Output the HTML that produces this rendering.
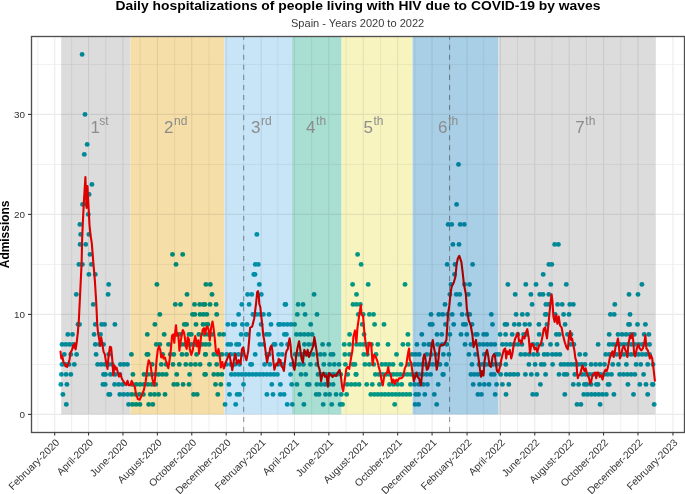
<!DOCTYPE html>
<html><head><meta charset="utf-8"><style>
html,body{margin:0;padding:0;background:#fff;width:685px;height:494px;overflow:hidden}
svg{display:block;position:absolute;left:0;top:0}
text{font-family:"Liberation Sans",sans-serif}
</style></head><body>
<svg width="685" height="494" viewBox="0 0 685 494">
<rect width="685" height="494" fill="#fff"/>
<g><line x1="37.78" y1="36.5" x2="37.78" y2="432.5" stroke="#ebebeb" stroke-width="0.75"/><line x1="71.62" y1="36.5" x2="71.62" y2="432.5" stroke="#ebebeb" stroke-width="0.75"/><line x1="105.75" y1="36.5" x2="105.75" y2="432.5" stroke="#ebebeb" stroke-width="0.75"/><line x1="140.16" y1="36.5" x2="140.16" y2="432.5" stroke="#ebebeb" stroke-width="0.75"/><line x1="174.57" y1="36.5" x2="174.57" y2="432.5" stroke="#ebebeb" stroke-width="0.75"/><line x1="208.98" y1="36.5" x2="208.98" y2="432.5" stroke="#ebebeb" stroke-width="0.75"/><line x1="243.67" y1="36.5" x2="243.67" y2="432.5" stroke="#ebebeb" stroke-width="0.75"/><line x1="277.80" y1="36.5" x2="277.80" y2="432.5" stroke="#ebebeb" stroke-width="0.75"/><line x1="311.65" y1="36.5" x2="311.65" y2="432.5" stroke="#ebebeb" stroke-width="0.75"/><line x1="346.06" y1="36.5" x2="346.06" y2="432.5" stroke="#ebebeb" stroke-width="0.75"/><line x1="380.47" y1="36.5" x2="380.47" y2="432.5" stroke="#ebebeb" stroke-width="0.75"/><line x1="414.88" y1="36.5" x2="414.88" y2="432.5" stroke="#ebebeb" stroke-width="0.75"/><line x1="449.57" y1="36.5" x2="449.57" y2="432.5" stroke="#ebebeb" stroke-width="0.75"/><line x1="483.70" y1="36.5" x2="483.70" y2="432.5" stroke="#ebebeb" stroke-width="0.75"/><line x1="517.54" y1="36.5" x2="517.54" y2="432.5" stroke="#ebebeb" stroke-width="0.75"/><line x1="551.95" y1="36.5" x2="551.95" y2="432.5" stroke="#ebebeb" stroke-width="0.75"/><line x1="586.36" y1="36.5" x2="586.36" y2="432.5" stroke="#ebebeb" stroke-width="0.75"/><line x1="620.77" y1="36.5" x2="620.77" y2="432.5" stroke="#ebebeb" stroke-width="0.75"/><line x1="655.47" y1="36.5" x2="655.47" y2="432.5" stroke="#ebebeb" stroke-width="0.75"/><line x1="54.70" y1="36.5" x2="54.70" y2="432.5" stroke="#ebebeb" stroke-width="1.1"/><line x1="88.55" y1="36.5" x2="88.55" y2="432.5" stroke="#ebebeb" stroke-width="1.1"/><line x1="122.96" y1="36.5" x2="122.96" y2="432.5" stroke="#ebebeb" stroke-width="1.1"/><line x1="157.37" y1="36.5" x2="157.37" y2="432.5" stroke="#ebebeb" stroke-width="1.1"/><line x1="191.78" y1="36.5" x2="191.78" y2="432.5" stroke="#ebebeb" stroke-width="1.1"/><line x1="226.19" y1="36.5" x2="226.19" y2="432.5" stroke="#ebebeb" stroke-width="1.1"/><line x1="261.16" y1="36.5" x2="261.16" y2="432.5" stroke="#ebebeb" stroke-width="1.1"/><line x1="294.44" y1="36.5" x2="294.44" y2="432.5" stroke="#ebebeb" stroke-width="1.1"/><line x1="328.85" y1="36.5" x2="328.85" y2="432.5" stroke="#ebebeb" stroke-width="1.1"/><line x1="363.26" y1="36.5" x2="363.26" y2="432.5" stroke="#ebebeb" stroke-width="1.1"/><line x1="397.67" y1="36.5" x2="397.67" y2="432.5" stroke="#ebebeb" stroke-width="1.1"/><line x1="432.08" y1="36.5" x2="432.08" y2="432.5" stroke="#ebebeb" stroke-width="1.1"/><line x1="467.06" y1="36.5" x2="467.06" y2="432.5" stroke="#ebebeb" stroke-width="1.1"/><line x1="500.34" y1="36.5" x2="500.34" y2="432.5" stroke="#ebebeb" stroke-width="1.1"/><line x1="534.75" y1="36.5" x2="534.75" y2="432.5" stroke="#ebebeb" stroke-width="1.1"/><line x1="569.16" y1="36.5" x2="569.16" y2="432.5" stroke="#ebebeb" stroke-width="1.1"/><line x1="603.57" y1="36.5" x2="603.57" y2="432.5" stroke="#ebebeb" stroke-width="1.1"/><line x1="637.98" y1="36.5" x2="637.98" y2="432.5" stroke="#ebebeb" stroke-width="1.1"/><line x1="672.95" y1="36.5" x2="672.95" y2="432.5" stroke="#ebebeb" stroke-width="1.1"/><line x1="31.5" y1="414.40" x2="684.5" y2="414.40" stroke="#ebebeb" stroke-width="1.1"/><line x1="31.5" y1="364.40" x2="684.5" y2="364.40" stroke="#ebebeb" stroke-width="0.75"/><line x1="31.5" y1="314.40" x2="684.5" y2="314.40" stroke="#ebebeb" stroke-width="1.1"/><line x1="31.5" y1="264.40" x2="684.5" y2="264.40" stroke="#ebebeb" stroke-width="0.75"/><line x1="31.5" y1="214.40" x2="684.5" y2="214.40" stroke="#ebebeb" stroke-width="1.1"/><line x1="31.5" y1="164.40" x2="684.5" y2="164.40" stroke="#ebebeb" stroke-width="0.75"/><line x1="31.5" y1="114.40" x2="684.5" y2="114.40" stroke="#ebebeb" stroke-width="1.1"/><line x1="31.5" y1="64.40" x2="684.5" y2="64.40" stroke="#ebebeb" stroke-width="0.75"/></g>
<line x1="243.67" y1="432.0" x2="243.67" y2="36.5" stroke="#999" stroke-width="1.1" stroke-dasharray="5.03,5.03"/>
<line x1="449.57" y1="432.0" x2="449.57" y2="36.5" stroke="#999" stroke-width="1.1" stroke-dasharray="5.03,5.03"/>
<g fill="#009eae"><circle cx="66.3" cy="404.4" r="2.45"/><circle cx="128.6" cy="404.4" r="2.45"/><circle cx="132.4" cy="404.4" r="2.45"/><circle cx="136.1" cy="404.4" r="2.45"/><circle cx="139.9" cy="404.4" r="2.45"/><circle cx="148.7" cy="404.4" r="2.45"/><circle cx="152.8" cy="404.4" r="2.45"/><circle cx="225.1" cy="404.4" r="2.45"/><circle cx="235.7" cy="404.4" r="2.45"/><circle cx="287.2" cy="404.4" r="2.45"/><circle cx="292.3" cy="404.4" r="2.45"/><circle cx="303.9" cy="404.4" r="2.45"/><circle cx="323.2" cy="404.4" r="2.45"/><circle cx="331.7" cy="404.4" r="2.45"/><circle cx="340.1" cy="404.4" r="2.45"/><circle cx="342.5" cy="404.4" r="2.45"/><circle cx="394.7" cy="404.4" r="2.45"/><circle cx="415.1" cy="404.4" r="2.45"/><circle cx="418.6" cy="404.4" r="2.45"/><circle cx="436.7" cy="404.4" r="2.45"/><circle cx="577.0" cy="404.4" r="2.45"/><circle cx="580.9" cy="404.4" r="2.45"/><circle cx="600.1" cy="404.4" r="2.45"/><circle cx="654.2" cy="404.4" r="2.45"/><circle cx="62.9" cy="394.4" r="2.45"/><circle cx="108.7" cy="394.4" r="2.45"/><circle cx="109.9" cy="394.4" r="2.45"/><circle cx="119.8" cy="394.4" r="2.45"/><circle cx="123.7" cy="394.4" r="2.45"/><circle cx="127.7" cy="394.4" r="2.45"/><circle cx="131.6" cy="394.4" r="2.45"/><circle cx="135.5" cy="394.4" r="2.45"/><circle cx="139.5" cy="394.4" r="2.45"/><circle cx="143.4" cy="394.4" r="2.45"/><circle cx="150.4" cy="394.4" r="2.45"/><circle cx="154.5" cy="394.4" r="2.45"/><circle cx="158.6" cy="394.4" r="2.45"/><circle cx="165.0" cy="394.4" r="2.45"/><circle cx="193.6" cy="394.4" r="2.45"/><circle cx="197.2" cy="394.4" r="2.45"/><circle cx="217.8" cy="394.4" r="2.45"/><circle cx="229.5" cy="394.4" r="2.45"/><circle cx="237.1" cy="394.4" r="2.45"/><circle cx="239.5" cy="394.4" r="2.45"/><circle cx="266.9" cy="394.4" r="2.45"/><circle cx="273.0" cy="394.4" r="2.45"/><circle cx="280.3" cy="394.4" r="2.45"/><circle cx="284.1" cy="394.4" r="2.45"/><circle cx="299.9" cy="394.4" r="2.45"/><circle cx="316.2" cy="394.4" r="2.45"/><circle cx="319.1" cy="394.4" r="2.45"/><circle cx="325.5" cy="394.4" r="2.45"/><circle cx="329.6" cy="394.4" r="2.45"/><circle cx="336.1" cy="394.4" r="2.45"/><circle cx="341.3" cy="394.4" r="2.45"/><circle cx="346.6" cy="394.4" r="2.45"/><circle cx="370.8" cy="394.4" r="2.45"/><circle cx="374.4" cy="394.4" r="2.45"/><circle cx="377.9" cy="394.4" r="2.45"/><circle cx="381.5" cy="394.4" r="2.45"/><circle cx="385.0" cy="394.4" r="2.45"/><circle cx="388.6" cy="394.4" r="2.45"/><circle cx="392.1" cy="394.4" r="2.45"/><circle cx="395.7" cy="394.4" r="2.45"/><circle cx="399.2" cy="394.4" r="2.45"/><circle cx="402.8" cy="394.4" r="2.45"/><circle cx="406.3" cy="394.4" r="2.45"/><circle cx="409.9" cy="394.4" r="2.45"/><circle cx="415.7" cy="394.4" r="2.45"/><circle cx="418.6" cy="394.4" r="2.45"/><circle cx="424.8" cy="394.4" r="2.45"/><circle cx="434.3" cy="394.4" r="2.45"/><circle cx="477.9" cy="394.4" r="2.45"/><circle cx="481.4" cy="394.4" r="2.45"/><circle cx="495.2" cy="394.4" r="2.45"/><circle cx="506.0" cy="394.4" r="2.45"/><circle cx="532.7" cy="394.4" r="2.45"/><circle cx="536.5" cy="394.4" r="2.45"/><circle cx="564.8" cy="394.4" r="2.45"/><circle cx="583.8" cy="394.4" r="2.45"/><circle cx="587.5" cy="394.4" r="2.45"/><circle cx="591.3" cy="394.4" r="2.45"/><circle cx="595.0" cy="394.4" r="2.45"/><circle cx="598.8" cy="394.4" r="2.45"/><circle cx="602.5" cy="394.4" r="2.45"/><circle cx="606.3" cy="394.4" r="2.45"/><circle cx="613.9" cy="394.4" r="2.45"/><circle cx="633.5" cy="394.4" r="2.45"/><circle cx="647.7" cy="394.4" r="2.45"/><circle cx="60.8" cy="384.4" r="2.45"/><circle cx="66.9" cy="384.4" r="2.45"/><circle cx="102.9" cy="384.4" r="2.45"/><circle cx="105.2" cy="384.4" r="2.45"/><circle cx="114.6" cy="384.4" r="2.45"/><circle cx="118.7" cy="384.4" r="2.45"/><circle cx="122.7" cy="384.4" r="2.45"/><circle cx="132.3" cy="384.4" r="2.45"/><circle cx="136.2" cy="384.4" r="2.45"/><circle cx="140.1" cy="384.4" r="2.45"/><circle cx="144.0" cy="384.4" r="2.45"/><circle cx="147.9" cy="384.4" r="2.45"/><circle cx="151.8" cy="384.4" r="2.45"/><circle cx="155.7" cy="384.4" r="2.45"/><circle cx="173.8" cy="384.4" r="2.45"/><circle cx="177.3" cy="384.4" r="2.45"/><circle cx="183.1" cy="384.4" r="2.45"/><circle cx="189.0" cy="384.4" r="2.45"/><circle cx="215.5" cy="384.4" r="2.45"/><circle cx="220.8" cy="384.4" r="2.45"/><circle cx="228.9" cy="384.4" r="2.45"/><circle cx="243.5" cy="384.4" r="2.45"/><circle cx="271.8" cy="384.4" r="2.45"/><circle cx="280.4" cy="384.4" r="2.45"/><circle cx="291.7" cy="384.4" r="2.45"/><circle cx="296.9" cy="384.4" r="2.45"/><circle cx="307.4" cy="384.4" r="2.45"/><circle cx="309.2" cy="384.4" r="2.45"/><circle cx="316.8" cy="384.4" r="2.45"/><circle cx="320.9" cy="384.4" r="2.45"/><circle cx="325.0" cy="384.4" r="2.45"/><circle cx="329.0" cy="384.4" r="2.45"/><circle cx="333.1" cy="384.4" r="2.45"/><circle cx="347.2" cy="384.4" r="2.45"/><circle cx="351.2" cy="384.4" r="2.45"/><circle cx="355.1" cy="384.4" r="2.45"/><circle cx="359.1" cy="384.4" r="2.45"/><circle cx="366.7" cy="384.4" r="2.45"/><circle cx="372.3" cy="384.4" r="2.45"/><circle cx="379.5" cy="384.4" r="2.45"/><circle cx="389.5" cy="384.4" r="2.45"/><circle cx="393.6" cy="384.4" r="2.45"/><circle cx="397.6" cy="384.4" r="2.45"/><circle cx="401.7" cy="384.4" r="2.45"/><circle cx="410.5" cy="384.4" r="2.45"/><circle cx="414.7" cy="384.4" r="2.45"/><circle cx="418.9" cy="384.4" r="2.45"/><circle cx="423.2" cy="384.4" r="2.45"/><circle cx="427.4" cy="384.4" r="2.45"/><circle cx="438.2" cy="384.4" r="2.45"/><circle cx="473.2" cy="384.4" r="2.45"/><circle cx="479.6" cy="384.4" r="2.45"/><circle cx="484.3" cy="384.4" r="2.45"/><circle cx="489.0" cy="384.4" r="2.45"/><circle cx="496.6" cy="384.4" r="2.45"/><circle cx="502.4" cy="384.4" r="2.45"/><circle cx="508.8" cy="384.4" r="2.45"/><circle cx="540.4" cy="384.4" r="2.45"/><circle cx="573.3" cy="384.4" r="2.45"/><circle cx="578.6" cy="384.4" r="2.45"/><circle cx="584.4" cy="384.4" r="2.45"/><circle cx="586.8" cy="384.4" r="2.45"/><circle cx="591.1" cy="384.4" r="2.45"/><circle cx="596.4" cy="384.4" r="2.45"/><circle cx="598.1" cy="384.4" r="2.45"/><circle cx="608.0" cy="384.4" r="2.45"/><circle cx="609.2" cy="384.4" r="2.45"/><circle cx="627.9" cy="384.4" r="2.45"/><circle cx="639.8" cy="384.4" r="2.45"/><circle cx="646.0" cy="384.4" r="2.45"/><circle cx="652.4" cy="384.4" r="2.45"/><circle cx="653.0" cy="384.4" r="2.45"/><circle cx="61.4" cy="374.4" r="2.45"/><circle cx="66.1" cy="374.4" r="2.45"/><circle cx="70.8" cy="374.4" r="2.45"/><circle cx="103.5" cy="374.4" r="2.45"/><circle cx="105.5" cy="374.4" r="2.45"/><circle cx="110.5" cy="374.4" r="2.45"/><circle cx="115.2" cy="374.4" r="2.45"/><circle cx="119.8" cy="374.4" r="2.45"/><circle cx="132.9" cy="374.4" r="2.45"/><circle cx="144.0" cy="374.4" r="2.45"/><circle cx="147.7" cy="374.4" r="2.45"/><circle cx="151.4" cy="374.4" r="2.45"/><circle cx="155.1" cy="374.4" r="2.45"/><circle cx="158.8" cy="374.4" r="2.45"/><circle cx="162.5" cy="374.4" r="2.45"/><circle cx="166.2" cy="374.4" r="2.45"/><circle cx="176.7" cy="374.4" r="2.45"/><circle cx="189.6" cy="374.4" r="2.45"/><circle cx="204.7" cy="374.4" r="2.45"/><circle cx="205.6" cy="374.4" r="2.45"/><circle cx="213.8" cy="374.4" r="2.45"/><circle cx="217.9" cy="374.4" r="2.45"/><circle cx="221.9" cy="374.4" r="2.45"/><circle cx="231.3" cy="374.4" r="2.45"/><circle cx="234.8" cy="374.4" r="2.45"/><circle cx="238.4" cy="374.4" r="2.45"/><circle cx="241.9" cy="374.4" r="2.45"/><circle cx="245.5" cy="374.4" r="2.45"/><circle cx="249.0" cy="374.4" r="2.45"/><circle cx="252.6" cy="374.4" r="2.45"/><circle cx="256.1" cy="374.4" r="2.45"/><circle cx="259.7" cy="374.4" r="2.45"/><circle cx="263.2" cy="374.4" r="2.45"/><circle cx="266.8" cy="374.4" r="2.45"/><circle cx="270.3" cy="374.4" r="2.45"/><circle cx="273.9" cy="374.4" r="2.45"/><circle cx="277.4" cy="374.4" r="2.45"/><circle cx="290.5" cy="374.4" r="2.45"/><circle cx="301.0" cy="374.4" r="2.45"/><circle cx="305.7" cy="374.4" r="2.45"/><circle cx="318.0" cy="374.4" r="2.45"/><circle cx="321.8" cy="374.4" r="2.45"/><circle cx="325.6" cy="374.4" r="2.45"/><circle cx="329.4" cy="374.4" r="2.45"/><circle cx="333.1" cy="374.4" r="2.45"/><circle cx="336.9" cy="374.4" r="2.45"/><circle cx="340.7" cy="374.4" r="2.45"/><circle cx="347.7" cy="374.4" r="2.45"/><circle cx="355.9" cy="374.4" r="2.45"/><circle cx="356.2" cy="374.4" r="2.45"/><circle cx="375.4" cy="374.4" r="2.45"/><circle cx="379.0" cy="374.4" r="2.45"/><circle cx="382.6" cy="374.4" r="2.45"/><circle cx="386.1" cy="374.4" r="2.45"/><circle cx="389.7" cy="374.4" r="2.45"/><circle cx="393.3" cy="374.4" r="2.45"/><circle cx="396.9" cy="374.4" r="2.45"/><circle cx="400.4" cy="374.4" r="2.45"/><circle cx="404.0" cy="374.4" r="2.45"/><circle cx="407.6" cy="374.4" r="2.45"/><circle cx="411.1" cy="374.4" r="2.45"/><circle cx="415.1" cy="374.4" r="2.45"/><circle cx="419.0" cy="374.4" r="2.45"/><circle cx="422.9" cy="374.4" r="2.45"/><circle cx="426.7" cy="374.4" r="2.45"/><circle cx="430.6" cy="374.4" r="2.45"/><circle cx="442.8" cy="374.4" r="2.45"/><circle cx="443.4" cy="374.4" r="2.45"/><circle cx="470.9" cy="374.4" r="2.45"/><circle cx="474.4" cy="374.4" r="2.45"/><circle cx="477.9" cy="374.4" r="2.45"/><circle cx="481.4" cy="374.4" r="2.45"/><circle cx="491.3" cy="374.4" r="2.45"/><circle cx="494.2" cy="374.4" r="2.45"/><circle cx="500.7" cy="374.4" r="2.45"/><circle cx="506.2" cy="374.4" r="2.45"/><circle cx="510.1" cy="374.4" r="2.45"/><circle cx="513.9" cy="374.4" r="2.45"/><circle cx="517.8" cy="374.4" r="2.45"/><circle cx="525.4" cy="374.4" r="2.45"/><circle cx="531.3" cy="374.4" r="2.45"/><circle cx="537.1" cy="374.4" r="2.45"/><circle cx="545.6" cy="374.4" r="2.45"/><circle cx="559.0" cy="374.4" r="2.45"/><circle cx="564.2" cy="374.4" r="2.45"/><circle cx="566.9" cy="374.4" r="2.45"/><circle cx="574.8" cy="374.4" r="2.45"/><circle cx="582.0" cy="374.4" r="2.45"/><circle cx="585.7" cy="374.4" r="2.45"/><circle cx="589.4" cy="374.4" r="2.45"/><circle cx="593.1" cy="374.4" r="2.45"/><circle cx="596.8" cy="374.4" r="2.45"/><circle cx="600.4" cy="374.4" r="2.45"/><circle cx="604.1" cy="374.4" r="2.45"/><circle cx="607.8" cy="374.4" r="2.45"/><circle cx="611.5" cy="374.4" r="2.45"/><circle cx="619.7" cy="374.4" r="2.45"/><circle cx="623.5" cy="374.4" r="2.45"/><circle cx="627.3" cy="374.4" r="2.45"/><circle cx="631.1" cy="374.4" r="2.45"/><circle cx="634.9" cy="374.4" r="2.45"/><circle cx="643.6" cy="374.4" r="2.45"/><circle cx="62.0" cy="364.4" r="2.45"/><circle cx="65.5" cy="364.4" r="2.45"/><circle cx="69.0" cy="364.4" r="2.45"/><circle cx="74.3" cy="364.4" r="2.45"/><circle cx="97.6" cy="364.4" r="2.45"/><circle cx="101.2" cy="364.4" r="2.45"/><circle cx="104.9" cy="364.4" r="2.45"/><circle cx="108.5" cy="364.4" r="2.45"/><circle cx="112.2" cy="364.4" r="2.45"/><circle cx="120.4" cy="364.4" r="2.45"/><circle cx="123.9" cy="364.4" r="2.45"/><circle cx="127.4" cy="364.4" r="2.45"/><circle cx="152.2" cy="364.4" r="2.45"/><circle cx="161.3" cy="364.4" r="2.45"/><circle cx="166.2" cy="364.4" r="2.45"/><circle cx="173.0" cy="364.4" r="2.45"/><circle cx="179.3" cy="364.4" r="2.45"/><circle cx="185.8" cy="364.4" r="2.45"/><circle cx="190.7" cy="364.4" r="2.45"/><circle cx="195.4" cy="364.4" r="2.45"/><circle cx="200.1" cy="364.4" r="2.45"/><circle cx="209.5" cy="364.4" r="2.45"/><circle cx="216.7" cy="364.4" r="2.45"/><circle cx="226.0" cy="364.4" r="2.45"/><circle cx="230.5" cy="364.4" r="2.45"/><circle cx="235.0" cy="364.4" r="2.45"/><circle cx="239.5" cy="364.4" r="2.45"/><circle cx="250.5" cy="364.4" r="2.45"/><circle cx="251.7" cy="364.4" r="2.45"/><circle cx="264.6" cy="364.4" r="2.45"/><circle cx="269.8" cy="364.4" r="2.45"/><circle cx="278.0" cy="364.4" r="2.45"/><circle cx="282.3" cy="364.4" r="2.45"/><circle cx="291.1" cy="364.4" r="2.45"/><circle cx="295.2" cy="364.4" r="2.45"/><circle cx="299.3" cy="364.4" r="2.45"/><circle cx="303.4" cy="364.4" r="2.45"/><circle cx="310.4" cy="364.4" r="2.45"/><circle cx="316.8" cy="364.4" r="2.45"/><circle cx="323.8" cy="364.4" r="2.45"/><circle cx="329.6" cy="364.4" r="2.45"/><circle cx="334.3" cy="364.4" r="2.45"/><circle cx="339.0" cy="364.4" r="2.45"/><circle cx="345.4" cy="364.4" r="2.45"/><circle cx="353.0" cy="364.4" r="2.45"/><circle cx="355.0" cy="364.4" r="2.45"/><circle cx="364.9" cy="364.4" r="2.45"/><circle cx="369.3" cy="364.4" r="2.45"/><circle cx="373.7" cy="364.4" r="2.45"/><circle cx="381.9" cy="364.4" r="2.45"/><circle cx="385.6" cy="364.4" r="2.45"/><circle cx="389.3" cy="364.4" r="2.45"/><circle cx="393.0" cy="364.4" r="2.45"/><circle cx="401.1" cy="364.4" r="2.45"/><circle cx="408.7" cy="364.4" r="2.45"/><circle cx="414.6" cy="364.4" r="2.45"/><circle cx="418.2" cy="364.4" r="2.45"/><circle cx="421.8" cy="364.4" r="2.45"/><circle cx="425.4" cy="364.4" r="2.45"/><circle cx="429.1" cy="364.4" r="2.45"/><circle cx="432.7" cy="364.4" r="2.45"/><circle cx="436.3" cy="364.4" r="2.45"/><circle cx="439.9" cy="364.4" r="2.45"/><circle cx="446.4" cy="364.4" r="2.45"/><circle cx="472.0" cy="364.4" r="2.45"/><circle cx="479.0" cy="364.4" r="2.45"/><circle cx="482.5" cy="364.4" r="2.45"/><circle cx="486.0" cy="364.4" r="2.45"/><circle cx="489.5" cy="364.4" r="2.45"/><circle cx="493.0" cy="364.4" r="2.45"/><circle cx="496.5" cy="364.4" r="2.45"/><circle cx="500.0" cy="364.4" r="2.45"/><circle cx="505.8" cy="364.4" r="2.45"/><circle cx="528.9" cy="364.4" r="2.45"/><circle cx="535.1" cy="364.4" r="2.45"/><circle cx="541.2" cy="364.4" r="2.45"/><circle cx="544.1" cy="364.4" r="2.45"/><circle cx="552.6" cy="364.4" r="2.45"/><circle cx="561.0" cy="364.4" r="2.45"/><circle cx="564.4" cy="364.4" r="2.45"/><circle cx="567.9" cy="364.4" r="2.45"/><circle cx="571.3" cy="364.4" r="2.45"/><circle cx="574.7" cy="364.4" r="2.45"/><circle cx="578.1" cy="364.4" r="2.45"/><circle cx="581.6" cy="364.4" r="2.45"/><circle cx="585.0" cy="364.4" r="2.45"/><circle cx="591.1" cy="364.4" r="2.45"/><circle cx="595.6" cy="364.4" r="2.45"/><circle cx="600.0" cy="364.4" r="2.45"/><circle cx="604.5" cy="364.4" r="2.45"/><circle cx="612.7" cy="364.4" r="2.45"/><circle cx="618.5" cy="364.4" r="2.45"/><circle cx="626.4" cy="364.4" r="2.45"/><circle cx="636.1" cy="364.4" r="2.45"/><circle cx="640.7" cy="364.4" r="2.45"/><circle cx="647.7" cy="364.4" r="2.45"/><circle cx="653.0" cy="364.4" r="2.45"/><circle cx="64.3" cy="354.4" r="2.45"/><circle cx="70.8" cy="354.4" r="2.45"/><circle cx="76.6" cy="354.4" r="2.45"/><circle cx="96.1" cy="354.4" r="2.45"/><circle cx="108.7" cy="354.4" r="2.45"/><circle cx="131.4" cy="354.4" r="2.45"/><circle cx="146.9" cy="354.4" r="2.45"/><circle cx="148.1" cy="354.4" r="2.45"/><circle cx="162.7" cy="354.4" r="2.45"/><circle cx="170.3" cy="354.4" r="2.45"/><circle cx="173.8" cy="354.4" r="2.45"/><circle cx="182.0" cy="354.4" r="2.45"/><circle cx="186.6" cy="354.4" r="2.45"/><circle cx="196.6" cy="354.4" r="2.45"/><circle cx="205.3" cy="354.4" r="2.45"/><circle cx="205.6" cy="354.4" r="2.45"/><circle cx="213.8" cy="354.4" r="2.45"/><circle cx="217.9" cy="354.4" r="2.45"/><circle cx="221.9" cy="354.4" r="2.45"/><circle cx="226.6" cy="354.4" r="2.45"/><circle cx="230.6" cy="354.4" r="2.45"/><circle cx="234.5" cy="354.4" r="2.45"/><circle cx="238.4" cy="354.4" r="2.45"/><circle cx="242.4" cy="354.4" r="2.45"/><circle cx="255.2" cy="354.4" r="2.45"/><circle cx="267.0" cy="354.4" r="2.45"/><circle cx="269.0" cy="354.4" r="2.45"/><circle cx="278.6" cy="354.4" r="2.45"/><circle cx="282.3" cy="354.4" r="2.45"/><circle cx="295.2" cy="354.4" r="2.45"/><circle cx="298.8" cy="354.4" r="2.45"/><circle cx="302.4" cy="354.4" r="2.45"/><circle cx="306.1" cy="354.4" r="2.45"/><circle cx="309.7" cy="354.4" r="2.45"/><circle cx="313.3" cy="354.4" r="2.45"/><circle cx="320.3" cy="354.4" r="2.45"/><circle cx="324.4" cy="354.4" r="2.45"/><circle cx="330.8" cy="354.4" r="2.45"/><circle cx="333.1" cy="354.4" r="2.45"/><circle cx="344.8" cy="354.4" r="2.45"/><circle cx="349.5" cy="354.4" r="2.45"/><circle cx="363.8" cy="354.4" r="2.45"/><circle cx="367.3" cy="354.4" r="2.45"/><circle cx="376.0" cy="354.4" r="2.45"/><circle cx="396.5" cy="354.4" r="2.45"/><circle cx="412.2" cy="354.4" r="2.45"/><circle cx="415.7" cy="354.4" r="2.45"/><circle cx="419.2" cy="354.4" r="2.45"/><circle cx="426.8" cy="354.4" r="2.45"/><circle cx="431.2" cy="354.4" r="2.45"/><circle cx="435.8" cy="354.4" r="2.45"/><circle cx="443.4" cy="354.4" r="2.45"/><circle cx="448.9" cy="354.4" r="2.45"/><circle cx="468.9" cy="354.4" r="2.45"/><circle cx="475.5" cy="354.4" r="2.45"/><circle cx="484.3" cy="354.4" r="2.45"/><circle cx="496.0" cy="354.4" r="2.45"/><circle cx="498.9" cy="354.4" r="2.45"/><circle cx="520.8" cy="354.4" r="2.45"/><circle cx="525.0" cy="354.4" r="2.45"/><circle cx="529.2" cy="354.4" r="2.45"/><circle cx="533.5" cy="354.4" r="2.45"/><circle cx="537.7" cy="354.4" r="2.45"/><circle cx="544.1" cy="354.4" r="2.45"/><circle cx="547.6" cy="354.4" r="2.45"/><circle cx="552.3" cy="354.4" r="2.45"/><circle cx="556.1" cy="354.4" r="2.45"/><circle cx="559.9" cy="354.4" r="2.45"/><circle cx="579.7" cy="354.4" r="2.45"/><circle cx="585.3" cy="354.4" r="2.45"/><circle cx="605.7" cy="354.4" r="2.45"/><circle cx="609.4" cy="354.4" r="2.45"/><circle cx="613.0" cy="354.4" r="2.45"/><circle cx="616.7" cy="354.4" r="2.45"/><circle cx="620.3" cy="354.4" r="2.45"/><circle cx="624.0" cy="354.4" r="2.45"/><circle cx="627.6" cy="354.4" r="2.45"/><circle cx="631.2" cy="354.4" r="2.45"/><circle cx="634.9" cy="354.4" r="2.45"/><circle cx="638.5" cy="354.4" r="2.45"/><circle cx="642.2" cy="354.4" r="2.45"/><circle cx="645.9" cy="354.4" r="2.45"/><circle cx="649.5" cy="354.4" r="2.45"/><circle cx="62.0" cy="344.4" r="2.45"/><circle cx="65.7" cy="344.4" r="2.45"/><circle cx="69.4" cy="344.4" r="2.45"/><circle cx="73.1" cy="344.4" r="2.45"/><circle cx="95.3" cy="344.4" r="2.45"/><circle cx="99.4" cy="344.4" r="2.45"/><circle cx="103.5" cy="344.4" r="2.45"/><circle cx="156.3" cy="344.4" r="2.45"/><circle cx="159.8" cy="344.4" r="2.45"/><circle cx="168.5" cy="344.4" r="2.45"/><circle cx="181.4" cy="344.4" r="2.45"/><circle cx="184.9" cy="344.4" r="2.45"/><circle cx="188.3" cy="344.4" r="2.45"/><circle cx="191.8" cy="344.4" r="2.45"/><circle cx="195.2" cy="344.4" r="2.45"/><circle cx="198.7" cy="344.4" r="2.45"/><circle cx="202.2" cy="344.4" r="2.45"/><circle cx="205.6" cy="344.4" r="2.45"/><circle cx="209.1" cy="344.4" r="2.45"/><circle cx="227.8" cy="344.4" r="2.45"/><circle cx="230.7" cy="344.4" r="2.45"/><circle cx="236.5" cy="344.4" r="2.45"/><circle cx="238.9" cy="344.4" r="2.45"/><circle cx="259.9" cy="344.4" r="2.45"/><circle cx="263.4" cy="344.4" r="2.45"/><circle cx="273.9" cy="344.4" r="2.45"/><circle cx="275.1" cy="344.4" r="2.45"/><circle cx="281.4" cy="344.4" r="2.45"/><circle cx="287.6" cy="344.4" r="2.45"/><circle cx="304.5" cy="344.4" r="2.45"/><circle cx="308.9" cy="344.4" r="2.45"/><circle cx="313.3" cy="344.4" r="2.45"/><circle cx="322.6" cy="344.4" r="2.45"/><circle cx="328.8" cy="344.4" r="2.45"/><circle cx="344.2" cy="344.4" r="2.45"/><circle cx="349.5" cy="344.4" r="2.45"/><circle cx="356.5" cy="344.4" r="2.45"/><circle cx="360.2" cy="344.4" r="2.45"/><circle cx="363.9" cy="344.4" r="2.45"/><circle cx="367.7" cy="344.4" r="2.45"/><circle cx="371.4" cy="344.4" r="2.45"/><circle cx="377.8" cy="344.4" r="2.45"/><circle cx="388.0" cy="344.4" r="2.45"/><circle cx="402.9" cy="344.4" r="2.45"/><circle cx="408.1" cy="344.4" r="2.45"/><circle cx="416.9" cy="344.4" r="2.45"/><circle cx="423.9" cy="344.4" r="2.45"/><circle cx="428.6" cy="344.4" r="2.45"/><circle cx="430.0" cy="344.4" r="2.45"/><circle cx="437.6" cy="344.4" r="2.45"/><circle cx="442.2" cy="344.4" r="2.45"/><circle cx="446.9" cy="344.4" r="2.45"/><circle cx="465.0" cy="344.4" r="2.45"/><circle cx="470.9" cy="344.4" r="2.45"/><circle cx="479.6" cy="344.4" r="2.45"/><circle cx="483.4" cy="344.4" r="2.45"/><circle cx="487.2" cy="344.4" r="2.45"/><circle cx="491.0" cy="344.4" r="2.45"/><circle cx="494.8" cy="344.4" r="2.45"/><circle cx="502.4" cy="344.4" r="2.45"/><circle cx="506.3" cy="344.4" r="2.45"/><circle cx="510.2" cy="344.4" r="2.45"/><circle cx="514.1" cy="344.4" r="2.45"/><circle cx="518.0" cy="344.4" r="2.45"/><circle cx="521.9" cy="344.4" r="2.45"/><circle cx="533.0" cy="344.4" r="2.45"/><circle cx="537.4" cy="344.4" r="2.45"/><circle cx="541.8" cy="344.4" r="2.45"/><circle cx="550.5" cy="344.4" r="2.45"/><circle cx="557.0" cy="344.4" r="2.45"/><circle cx="570.4" cy="344.4" r="2.45"/><circle cx="573.9" cy="344.4" r="2.45"/><circle cx="598.1" cy="344.4" r="2.45"/><circle cx="609.2" cy="344.4" r="2.45"/><circle cx="612.9" cy="344.4" r="2.45"/><circle cx="616.5" cy="344.4" r="2.45"/><circle cx="620.2" cy="344.4" r="2.45"/><circle cx="623.9" cy="344.4" r="2.45"/><circle cx="627.5" cy="344.4" r="2.45"/><circle cx="631.2" cy="344.4" r="2.45"/><circle cx="634.8" cy="344.4" r="2.45"/><circle cx="638.5" cy="344.4" r="2.45"/><circle cx="642.2" cy="344.4" r="2.45"/><circle cx="645.8" cy="344.4" r="2.45"/><circle cx="649.5" cy="344.4" r="2.45"/><circle cx="67.8" cy="334.4" r="2.45"/><circle cx="72.5" cy="334.4" r="2.45"/><circle cx="94.1" cy="334.4" r="2.45"/><circle cx="100.5" cy="334.4" r="2.45"/><circle cx="147.3" cy="334.4" r="2.45"/><circle cx="164.2" cy="334.4" r="2.45"/><circle cx="176.7" cy="334.4" r="2.45"/><circle cx="180.2" cy="334.4" r="2.45"/><circle cx="189.0" cy="334.4" r="2.45"/><circle cx="191.3" cy="334.4" r="2.45"/><circle cx="198.9" cy="334.4" r="2.45"/><circle cx="204.7" cy="334.4" r="2.45"/><circle cx="208.3" cy="334.4" r="2.45"/><circle cx="212.0" cy="334.4" r="2.45"/><circle cx="219.6" cy="334.4" r="2.45"/><circle cx="223.7" cy="334.4" r="2.45"/><circle cx="241.2" cy="334.4" r="2.45"/><circle cx="245.9" cy="334.4" r="2.45"/><circle cx="247.0" cy="334.4" r="2.45"/><circle cx="258.5" cy="334.4" r="2.45"/><circle cx="266.3" cy="334.4" r="2.45"/><circle cx="269.2" cy="334.4" r="2.45"/><circle cx="284.4" cy="334.4" r="2.45"/><circle cx="286.4" cy="334.4" r="2.45"/><circle cx="296.4" cy="334.4" r="2.45"/><circle cx="300.3" cy="334.4" r="2.45"/><circle cx="304.2" cy="334.4" r="2.45"/><circle cx="308.2" cy="334.4" r="2.45"/><circle cx="312.1" cy="334.4" r="2.45"/><circle cx="349.6" cy="334.4" r="2.45"/><circle cx="364.1" cy="334.4" r="2.45"/><circle cx="407.9" cy="334.4" r="2.45"/><circle cx="421.8" cy="334.4" r="2.45"/><circle cx="437.0" cy="334.4" r="2.45"/><circle cx="441.7" cy="334.4" r="2.45"/><circle cx="449.9" cy="334.4" r="2.45"/><circle cx="461.0" cy="334.4" r="2.45"/><circle cx="466.8" cy="334.4" r="2.45"/><circle cx="475.5" cy="334.4" r="2.45"/><circle cx="477.3" cy="334.4" r="2.45"/><circle cx="483.7" cy="334.4" r="2.45"/><circle cx="486.6" cy="334.4" r="2.45"/><circle cx="500.1" cy="334.4" r="2.45"/><circle cx="505.6" cy="334.4" r="2.45"/><circle cx="512.2" cy="334.4" r="2.45"/><circle cx="517.8" cy="334.4" r="2.45"/><circle cx="523.7" cy="334.4" r="2.45"/><circle cx="526.4" cy="334.4" r="2.45"/><circle cx="539.2" cy="334.4" r="2.45"/><circle cx="556.4" cy="334.4" r="2.45"/><circle cx="559.3" cy="334.4" r="2.45"/><circle cx="567.5" cy="334.4" r="2.45"/><circle cx="571.0" cy="334.4" r="2.45"/><circle cx="609.2" cy="334.4" r="2.45"/><circle cx="618.0" cy="334.4" r="2.45"/><circle cx="622.1" cy="334.4" r="2.45"/><circle cx="626.1" cy="334.4" r="2.45"/><circle cx="630.2" cy="334.4" r="2.45"/><circle cx="634.3" cy="334.4" r="2.45"/><circle cx="644.2" cy="334.4" r="2.45"/><circle cx="648.9" cy="334.4" r="2.45"/><circle cx="78.0" cy="324.4" r="2.45"/><circle cx="79.5" cy="324.4" r="2.45"/><circle cx="95.3" cy="324.4" r="2.45"/><circle cx="101.7" cy="324.4" r="2.45"/><circle cx="104.6" cy="324.4" r="2.45"/><circle cx="114.9" cy="324.4" r="2.45"/><circle cx="154.9" cy="324.4" r="2.45"/><circle cx="184.3" cy="324.4" r="2.45"/><circle cx="186.6" cy="324.4" r="2.45"/><circle cx="196.0" cy="324.4" r="2.45"/><circle cx="203.0" cy="324.4" r="2.45"/><circle cx="206.5" cy="324.4" r="2.45"/><circle cx="207.9" cy="324.4" r="2.45"/><circle cx="227.8" cy="324.4" r="2.45"/><circle cx="233.0" cy="324.4" r="2.45"/><circle cx="234.8" cy="324.4" r="2.45"/><circle cx="242.4" cy="324.4" r="2.45"/><circle cx="247.0" cy="324.4" r="2.45"/><circle cx="261.1" cy="324.4" r="2.45"/><circle cx="271.0" cy="324.4" r="2.45"/><circle cx="278.6" cy="324.4" r="2.45"/><circle cx="280.0" cy="324.4" r="2.45"/><circle cx="283.6" cy="324.4" r="2.45"/><circle cx="287.3" cy="324.4" r="2.45"/><circle cx="291.0" cy="324.4" r="2.45"/><circle cx="294.6" cy="324.4" r="2.45"/><circle cx="310.7" cy="324.4" r="2.45"/><circle cx="362.2" cy="324.4" r="2.45"/><circle cx="374.6" cy="324.4" r="2.45"/><circle cx="384.0" cy="324.4" r="2.45"/><circle cx="430.0" cy="324.4" r="2.45"/><circle cx="432.3" cy="324.4" r="2.45"/><circle cx="445.5" cy="324.4" r="2.45"/><circle cx="453.7" cy="324.4" r="2.45"/><circle cx="463.3" cy="324.4" r="2.45"/><circle cx="465.6" cy="324.4" r="2.45"/><circle cx="472.0" cy="324.4" r="2.45"/><circle cx="492.5" cy="324.4" r="2.45"/><circle cx="505.0" cy="324.4" r="2.45"/><circle cx="506.8" cy="324.4" r="2.45"/><circle cx="514.3" cy="324.4" r="2.45"/><circle cx="519.0" cy="324.4" r="2.45"/><circle cx="524.9" cy="324.4" r="2.45"/><circle cx="529.5" cy="324.4" r="2.45"/><circle cx="538.9" cy="324.4" r="2.45"/><circle cx="547.0" cy="324.4" r="2.45"/><circle cx="565.1" cy="324.4" r="2.45"/><circle cx="628.5" cy="324.4" r="2.45"/><circle cx="629.6" cy="324.4" r="2.45"/><circle cx="637.5" cy="324.4" r="2.45"/><circle cx="645.4" cy="324.4" r="2.45"/><circle cx="159.8" cy="314.4" r="2.45"/><circle cx="192.5" cy="314.4" r="2.45"/><circle cx="194.8" cy="314.4" r="2.45"/><circle cx="200.0" cy="314.4" r="2.45"/><circle cx="203.4" cy="314.4" r="2.45"/><circle cx="206.8" cy="314.4" r="2.45"/><circle cx="216.7" cy="314.4" r="2.45"/><circle cx="238.6" cy="314.4" r="2.45"/><circle cx="252.9" cy="314.4" r="2.45"/><circle cx="256.4" cy="314.4" r="2.45"/><circle cx="259.9" cy="314.4" r="2.45"/><circle cx="263.4" cy="314.4" r="2.45"/><circle cx="269.0" cy="314.4" r="2.45"/><circle cx="297.3" cy="314.4" r="2.45"/><circle cx="305.1" cy="314.4" r="2.45"/><circle cx="317.0" cy="314.4" r="2.45"/><circle cx="358.3" cy="314.4" r="2.45"/><circle cx="363.2" cy="314.4" r="2.45"/><circle cx="369.4" cy="314.4" r="2.45"/><circle cx="373.5" cy="314.4" r="2.45"/><circle cx="431.0" cy="314.4" r="2.45"/><circle cx="438.8" cy="314.4" r="2.45"/><circle cx="442.8" cy="314.4" r="2.45"/><circle cx="447.5" cy="314.4" r="2.45"/><circle cx="452.2" cy="314.4" r="2.45"/><circle cx="462.1" cy="314.4" r="2.45"/><circle cx="467.4" cy="314.4" r="2.45"/><circle cx="469.7" cy="314.4" r="2.45"/><circle cx="491.3" cy="314.4" r="2.45"/><circle cx="516.1" cy="314.4" r="2.45"/><circle cx="522.3" cy="314.4" r="2.45"/><circle cx="527.5" cy="314.4" r="2.45"/><circle cx="545.3" cy="314.4" r="2.45"/><circle cx="546.5" cy="314.4" r="2.45"/><circle cx="555.2" cy="314.4" r="2.45"/><circle cx="563.6" cy="314.4" r="2.45"/><circle cx="569.0" cy="314.4" r="2.45"/><circle cx="610.4" cy="314.4" r="2.45"/><circle cx="614.2" cy="314.4" r="2.45"/><circle cx="630.0" cy="314.4" r="2.45"/><circle cx="93.3" cy="304.4" r="2.45"/><circle cx="175.3" cy="304.4" r="2.45"/><circle cx="180.5" cy="304.4" r="2.45"/><circle cx="194.5" cy="304.4" r="2.45"/><circle cx="199.7" cy="304.4" r="2.45"/><circle cx="203.3" cy="304.4" r="2.45"/><circle cx="205.0" cy="304.4" r="2.45"/><circle cx="210.0" cy="304.4" r="2.45"/><circle cx="216.1" cy="304.4" r="2.45"/><circle cx="241.8" cy="304.4" r="2.45"/><circle cx="249.1" cy="304.4" r="2.45"/><circle cx="285.0" cy="304.4" r="2.45"/><circle cx="285.8" cy="304.4" r="2.45"/><circle cx="298.1" cy="304.4" r="2.45"/><circle cx="303.0" cy="304.4" r="2.45"/><circle cx="353.0" cy="304.4" r="2.45"/><circle cx="356.6" cy="304.4" r="2.45"/><circle cx="360.3" cy="304.4" r="2.45"/><circle cx="445.0" cy="304.4" r="2.45"/><circle cx="459.8" cy="304.4" r="2.45"/><circle cx="532.1" cy="304.4" r="2.45"/><circle cx="545.9" cy="304.4" r="2.45"/><circle cx="548.8" cy="304.4" r="2.45"/><circle cx="557.6" cy="304.4" r="2.45"/><circle cx="562.2" cy="304.4" r="2.45"/><circle cx="569.8" cy="304.4" r="2.45"/><circle cx="573.3" cy="304.4" r="2.45"/><circle cx="614.8" cy="304.4" r="2.45"/><circle cx="76.3" cy="294.4" r="2.45"/><circle cx="108.1" cy="294.4" r="2.45"/><circle cx="187.0" cy="294.4" r="2.45"/><circle cx="212.0" cy="294.4" r="2.45"/><circle cx="247.6" cy="294.4" r="2.45"/><circle cx="251.7" cy="294.4" r="2.45"/><circle cx="261.3" cy="294.4" r="2.45"/><circle cx="314.1" cy="294.4" r="2.45"/><circle cx="356.5" cy="294.4" r="2.45"/><circle cx="449.9" cy="294.4" r="2.45"/><circle cx="456.3" cy="294.4" r="2.45"/><circle cx="459.8" cy="294.4" r="2.45"/><circle cx="468.3" cy="294.4" r="2.45"/><circle cx="515.2" cy="294.4" r="2.45"/><circle cx="530.9" cy="294.4" r="2.45"/><circle cx="539.8" cy="294.4" r="2.45"/><circle cx="543.0" cy="294.4" r="2.45"/><circle cx="548.8" cy="294.4" r="2.45"/><circle cx="629.0" cy="294.4" r="2.45"/><circle cx="638.0" cy="294.4" r="2.45"/><circle cx="108.7" cy="284.4" r="2.45"/><circle cx="156.9" cy="284.4" r="2.45"/><circle cx="205.9" cy="284.4" r="2.45"/><circle cx="210.3" cy="284.4" r="2.45"/><circle cx="259.3" cy="284.4" r="2.45"/><circle cx="352.6" cy="284.4" r="2.45"/><circle cx="368.2" cy="284.4" r="2.45"/><circle cx="405.0" cy="284.4" r="2.45"/><circle cx="451.0" cy="284.4" r="2.45"/><circle cx="464.5" cy="284.4" r="2.45"/><circle cx="469.5" cy="284.4" r="2.45"/><circle cx="507.9" cy="284.4" r="2.45"/><circle cx="525.8" cy="284.4" r="2.45"/><circle cx="536.0" cy="284.4" r="2.45"/><circle cx="550.8" cy="284.4" r="2.45"/><circle cx="566.3" cy="284.4" r="2.45"/><circle cx="641.9" cy="284.4" r="2.45"/><circle cx="88.9" cy="274.4" r="2.45"/><circle cx="95.3" cy="274.4" r="2.45"/><circle cx="253.8" cy="274.4" r="2.45"/><circle cx="255.0" cy="274.4" r="2.45"/><circle cx="454.5" cy="274.4" r="2.45"/><circle cx="543.2" cy="274.4" r="2.45"/><circle cx="78.9" cy="264.4" r="2.45"/><circle cx="82.4" cy="264.4" r="2.45"/><circle cx="91.4" cy="264.4" r="2.45"/><circle cx="176.0" cy="264.4" r="2.45"/><circle cx="255.3" cy="264.4" r="2.45"/><circle cx="258.3" cy="264.4" r="2.45"/><circle cx="361.1" cy="264.4" r="2.45"/><circle cx="447.2" cy="264.4" r="2.45"/><circle cx="455.0" cy="264.4" r="2.45"/><circle cx="472.6" cy="264.4" r="2.45"/><circle cx="548.9" cy="264.4" r="2.45"/><circle cx="551.8" cy="264.4" r="2.45"/><circle cx="90.0" cy="254.4" r="2.45"/><circle cx="172.5" cy="254.4" r="2.45"/><circle cx="182.7" cy="254.4" r="2.45"/><circle cx="357.6" cy="254.4" r="2.45"/><circle cx="80.1" cy="244.4" r="2.45"/><circle cx="85.7" cy="244.4" r="2.45"/><circle cx="452.9" cy="244.4" r="2.45"/><circle cx="459.0" cy="244.4" r="2.45"/><circle cx="554.7" cy="244.4" r="2.45"/><circle cx="558.4" cy="244.4" r="2.45"/><circle cx="80.7" cy="234.4" r="2.45"/><circle cx="88.9" cy="234.4" r="2.45"/><circle cx="256.9" cy="234.4" r="2.45"/><circle cx="79.9" cy="224.4" r="2.45"/><circle cx="448.1" cy="224.4" r="2.45"/><circle cx="451.7" cy="224.4" r="2.45"/><circle cx="460.2" cy="224.4" r="2.45"/><circle cx="464.3" cy="224.4" r="2.45"/><circle cx="88.3" cy="214.4" r="2.45"/><circle cx="82.6" cy="204.4" r="2.45"/><circle cx="86.5" cy="204.4" r="2.45"/><circle cx="456.6" cy="204.4" r="2.45"/><circle cx="89.1" cy="194.4" r="2.45"/><circle cx="91.9" cy="184.4" r="2.45"/><circle cx="458.5" cy="164.4" r="2.45"/><circle cx="84.3" cy="154.4" r="2.45"/><circle cx="87.2" cy="144.4" r="2.45"/><circle cx="85.0" cy="114.4" r="2.45"/><circle cx="82.1" cy="54.4" r="2.45"/></g>
<polyline points="60.5,351.6 61.3,358.5 62.3,356.1 63.5,362.2 64.7,364.0 65.7,366.4 66.5,365.2 67.1,367.0 68.4,363.4 69.6,359.2 70.5,352.5 72.0,350.0 73.2,345.2 74.2,347.6 74.8,343.4 75.6,349.4 76.6,343.4 77.8,333.0 78.9,319.1 80.0,296.8 81.6,263.4 82.1,240.0 83.0,219.0 84.0,200.0 85.4,177.0 86.0,195.0 86.6,208.0 87.5,186.0 88.2,200.0 89.5,225.0 90.5,235.0 91.8,243.4 93.4,263.4 94.9,281.2 96.3,303.5 97.2,323.5 98.1,333.6 99.3,339.7 100.2,345.8 101.2,337.3 102.4,344.6 103.6,351.9 104.8,354.3 106.0,361.6 107.5,368.9 108.4,357.9 109.9,346.8 111.1,347.4 112.3,359.6 113.3,375.4 114.5,365.6 115.7,369.3 116.5,367.5 117.8,372.3 119.0,376.6 120.2,373.5 122.0,379.0 124.4,382.7 126.3,385.1 127.5,380.8 128.7,385.1 130.5,385.1 131.7,380.8 133.5,385.1 134.8,386.9 136.0,393.6 137.8,399.0 139.6,399.7 141.4,396.0 143.9,389.9 145.7,381.4 147.5,366.9 148.7,360.2 150.5,364.4 152.4,379.0 154.2,385.7 155.4,375.4 156.6,359.6 157.8,349.9 159.0,346.2 160.3,350.0 161.2,357.4 162.4,354.9 163.6,358.6 164.9,357.4 166.0,361.0 167.3,364.7 168.3,368.3 169.5,361.0 170.9,348.9 172.1,335.5 173.4,334.3 174.3,342.8 175.2,331.9 176.0,325.2 176.8,335.5 177.6,333.1 178.5,337.3 179.4,350.7 180.6,341.6 181.9,334.3 182.8,330.0 184.0,332.5 184.9,337.9 185.8,346.4 186.7,348.9 187.7,337.3 188.9,339.2 189.8,348.9 191.3,354.9 192.8,350.1 194.3,340.4 195.2,336.1 196.2,340.4 197.0,346.4 198.3,340.4 199.1,353.7 200.1,346.4 201.1,336.1 201.9,334.3 202.8,329.4 204.0,328.2 205.2,334.3 206.2,328.2 207.4,326.4 208.6,330.0 209.8,340.4 211.0,328.2 212.5,321.5 213.4,327.0 214.7,337.9 215.9,351.3 217.3,353.7 218.5,348.9 219.6,354.7 220.8,367.5 222.3,362.0 223.8,368.4 225.6,362.9 227.4,358.4 229.2,353.8 230.5,360.2 232.3,370.2 234.2,358.4 235.4,353.8 236.9,363.8 238.7,360.2 240.5,363.8 242.0,349.2 243.3,347.4 244.7,354.7 246.4,360.2 248.2,351.1 249.3,338.3 250.1,327.6 252.2,326.6 254.2,318.5 255.2,310.4 256.2,302.3 257.2,292.2 258.0,291.1 258.8,296.0 259.3,304.0 260.3,307.0 261.1,315.0 262.3,324.9 263.3,335.8 264.1,339.4 265.0,346.7 265.9,354.0 267.1,362.5 268.1,356.4 269.3,354.0 270.2,347.9 271.4,345.5 272.2,349.2 273.2,360.1 274.4,369.8 275.4,366.2 276.3,363.7 277.5,364.9 278.7,358.9 279.7,362.5 280.5,360.1 281.5,366.2 282.7,367.4 283.9,371.0 285.1,360.1 286.0,352.8 286.8,350.4 287.8,349.2 288.8,341.9 289.6,338.2 290.5,344.3 291.4,356.4 292.7,360.1 293.6,367.4 294.5,369.8 295.5,362.6 296.2,355.5 297.7,347.0 299.1,341.3 300.1,348.4 301.5,358.4 302.9,362.6 304.3,349.9 305.7,352.7 306.6,355.5 307.6,349.9 309.0,357.0 310.4,352.7 311.8,349.9 313.3,345.6 314.3,337.1 315.4,342.8 316.8,352.7 318.2,365.5 319.6,369.7 321.1,381.1 322.2,375.4 323.6,372.6 325.0,376.8 326.5,375.4 327.9,386.7 329.1,373.0 331.1,375.0 332.7,377.0 334.1,375.0 336.1,376.0 338.2,372.0 339.6,369.9 340.8,375.0 342.2,387.2 343.2,391.2 344.9,379.1 346.3,368.9 347.7,366.9 349.3,368.9 350.9,358.8 352.4,350.7 353.4,336.5 355.0,330.4 356.4,342.6 357.4,328.4 359.1,316.2 360.8,305.2 361.5,314.2 363.1,316.2 364.5,334.5 365.9,344.6 367.6,354.7 369.2,342.6 371.2,343.6 372.6,364.9 374.1,354.7 375.7,356.8 377.3,360.8 378.7,366.9 380.0,371.2 381.4,379.7 382.8,385.4 384.3,375.5 385.7,374.0 387.1,372.6 388.2,367.0 389.2,372.6 390.6,374.0 392.1,382.6 393.5,379.7 394.9,384.0 396.3,379.7 397.7,381.1 399.1,378.3 401.3,378.3 402.7,376.9 403.8,374.0 404.8,368.4 406.2,365.5 407.2,358.4 408.4,351.3 409.1,348.5 409.8,359.9 411.2,362.7 412.3,371.2 413.8,381.1 415.2,376.9 416.6,372.6 417.6,376.9 419.0,378.3 420.9,385.4 422.3,371.2 423.3,358.4 424.3,354.2 425.4,358.4 426.8,369.8 428.2,368.4 429.6,361.3 430.8,354.2 431.8,344.3 432.8,340.0 433.9,347.1 435.3,354.2 436.7,369.8 438.2,361.3 439.6,347.2 441.5,344.7 443.9,344.7 446.4,339.9 448.1,313.2 449.3,305.9 450.5,293.7 451.7,286.4 453.7,282.8 455.4,276.7 456.6,264.6 457.8,258.5 459.3,255.8 461.4,262.1 462.6,271.9 463.9,284.0 465.8,293.7 466.8,308.3 468.7,320.4 470.7,325.3 472.4,335.0 473.6,347.2 476.0,339.9 478.0,354.4 480.0,369.7 481.1,376.8 482.1,371.1 483.5,375.4 484.5,361.2 486.0,352.7 487.1,349.9 488.2,355.5 489.6,365.5 491.1,366.9 492.5,357.0 493.9,354.1 494.9,355.5 495.9,364.0 497.0,371.1 498.4,372.6 499.9,366.9 501.3,359.8 502.7,354.1 503.8,349.9 505.2,348.4 506.2,358.4 507.2,351.3 508.4,354.1 509.8,349.9 511.2,358.4 512.3,354.1 513.8,344.2 515.2,338.5 516.6,335.7 518.0,332.8 519.0,341.3 520.0,340.2 521.5,343.8 522.7,336.5 524.6,338.4 525.8,332.9 527.3,329.2 528.8,338.4 530.0,353.0 531.3,343.8 533.1,344.7 534.6,349.3 536.0,347.5 537.3,352.0 539.1,345.7 541.0,343.8 542.8,334.7 543.7,329.2 545.2,327.4 545.9,332.9 547.0,338.4 548.3,325.6 549.5,312.8 550.6,301.9 551.6,294.2 552.5,301.9 553.4,316.5 554.7,321.9 556.1,314.7 557.4,323.8 558.7,316.5 560.1,325.6 561.6,327.4 562.9,334.7 564.7,342.0 566.5,347.5 567.8,349.3 569.2,334.7 570.2,331.1 571.1,339.9 572.1,338.5 573.1,344.2 574.3,349.9 575.4,358.4 576.4,361.2 577.1,372.6 577.8,378.2 578.8,375.4 580.2,374.0 581.3,369.7 582.5,365.5 583.5,368.3 584.5,371.1 585.6,368.3 586.7,372.6 587.7,375.4 589.1,378.2 590.1,383.9 591.3,381.1 592.4,375.4 593.8,374.0 595.2,372.6 596.2,378.2 597.2,372.6 598.4,372.6 599.8,376.8 601.2,375.4 602.6,379.6 604.0,372.6 605.5,369.7 606.6,371.1 607.6,368.3 608.6,364.0 609.7,358.4 611.1,354.1 612.6,351.3 613.7,357.0 614.7,352.7 615.7,345.6 616.8,344.2 617.9,338.5 618.9,345.6 619.9,358.4 621.1,355.5 622.5,348.4 623.9,345.6 625.3,349.9 626.5,352.7 627.4,357.0 628.4,344.2 630.0,335.7 630.8,338.2 632.2,333.2 633.2,340.2 634.2,354.4 635.2,356.4 636.9,348.3 638.3,344.3 639.7,348.3 641.3,350.4 642.9,348.3 644.4,342.3 645.4,335.2 646.4,348.3 647.8,350.4 649.0,354.4 649.8,358.5 651.0,355.4 652.2,358.5 653.5,368.6 654.9,380.7" fill="none" stroke="#ff0000" stroke-width="2.1" stroke-linejoin="round" stroke-linecap="round"/>
<g style="mix-blend-mode:multiply"><rect x="61.2" y="36.0" width="69.30" height="378.40" fill="rgb(220,220,220)"/><rect x="130.5" y="36.0" width="94.00" height="378.40" fill="rgb(245,222,168)"/><rect x="224.5" y="36.0" width="67.50" height="378.40" fill="rgb(200,229,247)"/><rect x="292.0" y="36.0" width="49.60" height="378.40" fill="rgb(168,223,210)"/><rect x="341.6" y="36.0" width="71.00" height="378.40" fill="rgb(248,244,192)"/><rect x="412.6" y="36.0" width="85.90" height="378.40" fill="rgb(169,207,230)"/><rect x="498.5" y="36.0" width="156.90" height="378.40" fill="rgb(220,220,220)"/></g>
<g><text x="90.4" y="132.7" fill="#8c8c8c" font-size="17">1<tspan font-size="12" dx="-0.6" dy="-7.6">st</tspan></text><text x="163.9" y="132.7" fill="#8c8c8c" font-size="17">2<tspan font-size="12" dx="0.6" dy="-7.6">nd</tspan></text><text x="250.9" y="132.7" fill="#8c8c8c" font-size="17">3<tspan font-size="12" dx="0.6" dy="-7.6">rd</tspan></text><text x="306" y="132.7" fill="#8c8c8c" font-size="17">4<tspan font-size="12" dx="0.6" dy="-7.6">th</tspan></text><text x="363.4" y="132.7" fill="#8c8c8c" font-size="17">5<tspan font-size="12" dx="0.6" dy="-7.6">th</tspan></text><text x="438.1" y="132.7" fill="#8c8c8c" font-size="17">6<tspan font-size="12" dx="0.6" dy="-7.6">th</tspan></text><text x="575.3" y="132.7" fill="#8c8c8c" font-size="17">7<tspan font-size="12" dx="0.6" dy="-7.6">th</tspan></text></g>
<rect x="31.5" y="36.5" width="653.0" height="396.0" fill="none" stroke="#505050" stroke-width="1.35"/>
<line x1="28" y1="414.40" x2="31.5" y2="414.40" stroke="#333" stroke-width="1.07"/><text x="25" y="417.95" font-size="9.9" fill="#333" text-anchor="end">0</text><line x1="28" y1="314.40" x2="31.5" y2="314.40" stroke="#333" stroke-width="1.07"/><text x="25" y="317.95" font-size="9.9" fill="#333" text-anchor="end">10</text><line x1="28" y1="214.40" x2="31.5" y2="214.40" stroke="#333" stroke-width="1.07"/><text x="25" y="217.95" font-size="9.9" fill="#333" text-anchor="end">20</text><line x1="28" y1="114.40" x2="31.5" y2="114.40" stroke="#333" stroke-width="1.07"/><text x="25" y="117.95" font-size="9.9" fill="#333" text-anchor="end">30</text>
<line x1="54.70" y1="432.5" x2="54.70" y2="435.5" stroke="#333" stroke-width="1.07"/><text transform="translate(54.70,438) rotate(-45)" font-size="10.2" fill="#333" text-anchor="end" dy="0.72em">February-2020</text><line x1="88.55" y1="432.5" x2="88.55" y2="435.5" stroke="#333" stroke-width="1.07"/><text transform="translate(88.55,438) rotate(-45)" font-size="10.2" fill="#333" text-anchor="end" dy="0.72em">April-2020</text><line x1="122.96" y1="432.5" x2="122.96" y2="435.5" stroke="#333" stroke-width="1.07"/><text transform="translate(122.96,438) rotate(-45)" font-size="10.2" fill="#333" text-anchor="end" dy="0.72em">June-2020</text><line x1="157.37" y1="432.5" x2="157.37" y2="435.5" stroke="#333" stroke-width="1.07"/><text transform="translate(157.37,438) rotate(-45)" font-size="10.2" fill="#333" text-anchor="end" dy="0.72em">August-2020</text><line x1="191.78" y1="432.5" x2="191.78" y2="435.5" stroke="#333" stroke-width="1.07"/><text transform="translate(191.78,438) rotate(-45)" font-size="10.2" fill="#333" text-anchor="end" dy="0.72em">October-2020</text><line x1="226.19" y1="432.5" x2="226.19" y2="435.5" stroke="#333" stroke-width="1.07"/><text transform="translate(226.19,438) rotate(-45)" font-size="10.2" fill="#333" text-anchor="end" dy="0.72em">December-2020</text><line x1="261.16" y1="432.5" x2="261.16" y2="435.5" stroke="#333" stroke-width="1.07"/><text transform="translate(261.16,438) rotate(-45)" font-size="10.2" fill="#333" text-anchor="end" dy="0.72em">February-2021</text><line x1="294.44" y1="432.5" x2="294.44" y2="435.5" stroke="#333" stroke-width="1.07"/><text transform="translate(294.44,438) rotate(-45)" font-size="10.2" fill="#333" text-anchor="end" dy="0.72em">April-2021</text><line x1="328.85" y1="432.5" x2="328.85" y2="435.5" stroke="#333" stroke-width="1.07"/><text transform="translate(328.85,438) rotate(-45)" font-size="10.2" fill="#333" text-anchor="end" dy="0.72em">June-2021</text><line x1="363.26" y1="432.5" x2="363.26" y2="435.5" stroke="#333" stroke-width="1.07"/><text transform="translate(363.26,438) rotate(-45)" font-size="10.2" fill="#333" text-anchor="end" dy="0.72em">August-2021</text><line x1="397.67" y1="432.5" x2="397.67" y2="435.5" stroke="#333" stroke-width="1.07"/><text transform="translate(397.67,438) rotate(-45)" font-size="10.2" fill="#333" text-anchor="end" dy="0.72em">October-2021</text><line x1="432.08" y1="432.5" x2="432.08" y2="435.5" stroke="#333" stroke-width="1.07"/><text transform="translate(432.08,438) rotate(-45)" font-size="10.2" fill="#333" text-anchor="end" dy="0.72em">December-2021</text><line x1="467.06" y1="432.5" x2="467.06" y2="435.5" stroke="#333" stroke-width="1.07"/><text transform="translate(467.06,438) rotate(-45)" font-size="10.2" fill="#333" text-anchor="end" dy="0.72em">February-2022</text><line x1="500.34" y1="432.5" x2="500.34" y2="435.5" stroke="#333" stroke-width="1.07"/><text transform="translate(500.34,438) rotate(-45)" font-size="10.2" fill="#333" text-anchor="end" dy="0.72em">April-2022</text><line x1="534.75" y1="432.5" x2="534.75" y2="435.5" stroke="#333" stroke-width="1.07"/><text transform="translate(534.75,438) rotate(-45)" font-size="10.2" fill="#333" text-anchor="end" dy="0.72em">June-2022</text><line x1="569.16" y1="432.5" x2="569.16" y2="435.5" stroke="#333" stroke-width="1.07"/><text transform="translate(569.16,438) rotate(-45)" font-size="10.2" fill="#333" text-anchor="end" dy="0.72em">August-2022</text><line x1="603.57" y1="432.5" x2="603.57" y2="435.5" stroke="#333" stroke-width="1.07"/><text transform="translate(603.57,438) rotate(-45)" font-size="10.2" fill="#333" text-anchor="end" dy="0.72em">October-2022</text><line x1="637.98" y1="432.5" x2="637.98" y2="435.5" stroke="#333" stroke-width="1.07"/><text transform="translate(637.98,438) rotate(-45)" font-size="10.2" fill="#333" text-anchor="end" dy="0.72em">December-2022</text><line x1="672.95" y1="432.5" x2="672.95" y2="435.5" stroke="#333" stroke-width="1.07"/><text transform="translate(672.95,438) rotate(-45)" font-size="10.2" fill="#333" text-anchor="end" dy="0.72em">February-2023</text>
<text x="358" y="9.6" font-size="12.8" font-weight="bold" fill="#000" text-anchor="middle" textLength="485" lengthAdjust="spacingAndGlyphs">Daily hospitalizations of people living with HIV due to COVID-19 by waves</text>
<text x="357.6" y="26.9" font-size="10.2" fill="#3a3a3a" text-anchor="middle" textLength="133.2" lengthAdjust="spacingAndGlyphs">Spain - Years 2020 to 2022</text>
<text transform="translate(9.1,234.4) rotate(-90)" font-size="12.6" font-weight="bold" fill="#000" text-anchor="middle" textLength="67.7" lengthAdjust="spacingAndGlyphs">Admissions</text>
</svg>
</body></html>
